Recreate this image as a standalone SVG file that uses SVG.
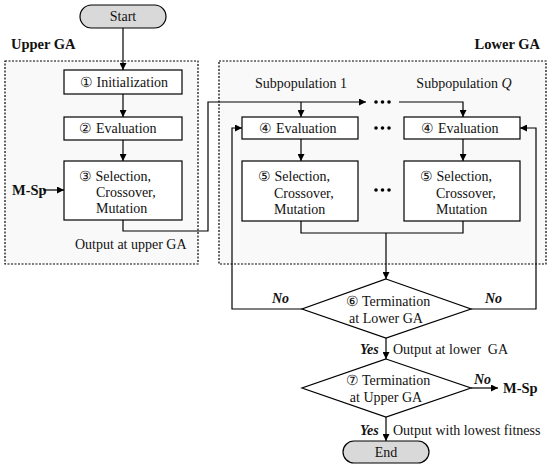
<svg xmlns="http://www.w3.org/2000/svg" width="550" height="469" viewBox="0 0 550 469">
<defs>
<marker id="arr" viewBox="0 0 10 10" refX="10" refY="5" markerWidth="7" markerHeight="7" markerUnits="userSpaceOnUse" orient="auto">
<path d="M0,0 L10,5 L0,10 z" fill="#000"/>
</marker>
</defs>
<style>
text{font-family:"Liberation Serif","DejaVu Serif",serif;font-size:14px;fill:#111}
.b{font-weight:bold;font-size:14.5px}
.i{font-style:italic;font-weight:bold}
.box{fill:#fff;stroke:#000;stroke-width:1.2}
.term{fill:#d9d9d9;stroke:#000;stroke-width:1.2}
.grp{fill:#f9f9f9;stroke:#000;stroke-width:1.2;stroke-dasharray:2 1.5}
.ln{fill:none;stroke:#000;stroke-width:1.2}
.m{marker-end:url(#arr)}
.c{text-anchor:middle}
</style>
<rect width="550" height="469" fill="#fff"/>
<g id="upperGA">
<rect class="grp" x="5" y="61" width="193" height="203"/>
<text class="b" x="11" y="49">Upper GA</text>
<text x="75" y="249">Output at upper GA</text>
</g>
<g id="lowerGA">
<rect class="grp" x="219" y="61" width="327" height="203"/>
<text class="b" x="540" y="49" text-anchor="end">Lower GA</text>
<text class="c" x="301" y="88">Subpopulation 1</text>
<text class="c" x="464" y="88">Subpopulation <tspan font-style="italic">Q</tspan></text>
</g>
<g id="start">
<rect class="term" x="80" y="5" width="86" height="23" rx="11.5"/>
<text class="c" x="123" y="21">Start</text>
</g>
<g id="init">
<rect class="box" x="64" y="70" width="118" height="24"/>
<text class="c" x="124" y="87">① Initialization</text>
</g>
<g id="eval-upper">
<rect class="box" x="64" y="117" width="118" height="23"/>
<text class="c" x="118" y="133">② Evaluation</text>
</g>
<g id="sel-upper">
<rect class="box" x="64" y="161" width="118" height="59"/>
<text x="79" y="181">③ Selection,</text>
<text x="96" y="197">Crossover,</text>
<text x="96" y="213">Mutation</text>
</g>
<g id="msp-in">
<text class="b" x="12" y="195">M-Sp</text>
</g>
<g id="eval-1">
<rect class="box" x="242" y="117" width="116" height="22"/>
<text class="c" x="298" y="133">④ Evaluation</text>
</g>
<g id="eval-q">
<rect class="box" x="404" y="117" width="116" height="22"/>
<text class="c" x="460" y="133">④ Evaluation</text>
</g>
<g id="sel-1">
<rect class="box" x="242" y="161" width="116" height="60"/>
<text x="258" y="181">⑤ Selection,</text>
<text x="274" y="198">Crossover,</text>
<text x="274" y="214">Mutation</text>
</g>
<g id="sel-q">
<rect class="box" x="404" y="161" width="116" height="60"/>
<text x="420" y="181">⑤ Selection,</text>
<text x="436" y="198">Crossover,</text>
<text x="436" y="214">Mutation</text>
</g>
<g id="dots">
<circle cx="376" cy="102" r="1.8"/><circle cx="382.5" cy="102" r="1.8"/><circle cx="389" cy="102" r="1.8"/>
<circle cx="376" cy="128" r="1.8"/><circle cx="382.5" cy="128" r="1.8"/><circle cx="389" cy="128" r="1.8"/>
<circle cx="376" cy="190" r="1.8"/><circle cx="382.5" cy="190" r="1.8"/><circle cx="389" cy="190" r="1.8"/>
</g>
<g id="term-lower">
<polygon class="box" points="386,279 471,309 386,338 302,309"/>
<text class="c" x="388" y="306">⑥ Termination</text>
<text class="c" x="386" y="323">at Lower GA</text>
</g>
<g id="term-upper">
<polygon class="box" points="386,359 471,388 386,417 302,388"/>
<text class="c" x="388" y="385">⑦ Termination</text>
<text class="c" x="386" y="402">at Upper GA</text>
</g>
<g id="end">
<rect class="term" x="343" y="441" width="86" height="22" rx="11"/>
<text class="c" x="386" y="457">End</text>
</g>
<g id="msp-out">
<text class="b" x="503" y="393">M-Sp</text>
</g>
<g id="connectors">
<line class="ln m" x1="123" y1="28" x2="123" y2="70"/>
<line class="ln m" x1="123" y1="94" x2="123" y2="117"/>
<line class="ln m" x1="123" y1="140" x2="123" y2="161"/>
<line class="ln m" x1="43" y1="190" x2="64" y2="190"/>
<polyline class="ln m" points="123,220 123,231 208,231 208,102 366,102"/>
<line class="ln m" x1="301" y1="102" x2="301" y2="117"/>
<polyline class="ln m" points="399,102 463,102 463,117"/>
<line class="ln m" x1="301" y1="139" x2="301" y2="161"/>
<line class="ln m" x1="463" y1="139" x2="463" y2="161"/>
<polyline class="ln" points="301,221 301,233 463,233 463,221"/>
<line class="ln m" x1="386" y1="233" x2="386" y2="279"/>
<polyline class="ln m" points="302,309 232,309 232,128 242,128"/>
<polyline class="ln m" points="471,309 536,309 536,128 520,128"/>
<line class="ln m" x1="386" y1="338" x2="386" y2="359"/>
<line class="ln m" x1="471" y1="388" x2="498" y2="388"/>
<line class="ln m" x1="386" y1="417" x2="386" y2="441"/>
<text class="i" x="272" y="303">No</text>
<text class="i" x="485" y="303">No</text>
<text class="i" x="360" y="354">Yes</text>
<text x="393" y="354">Output at lower&#160; GA</text>
<text class="i" x="474" y="384">No</text>
<text class="i" x="360" y="435">Yes</text>
<text x="393" y="435">Output with lowest fitness</text>
</g>
</svg>
